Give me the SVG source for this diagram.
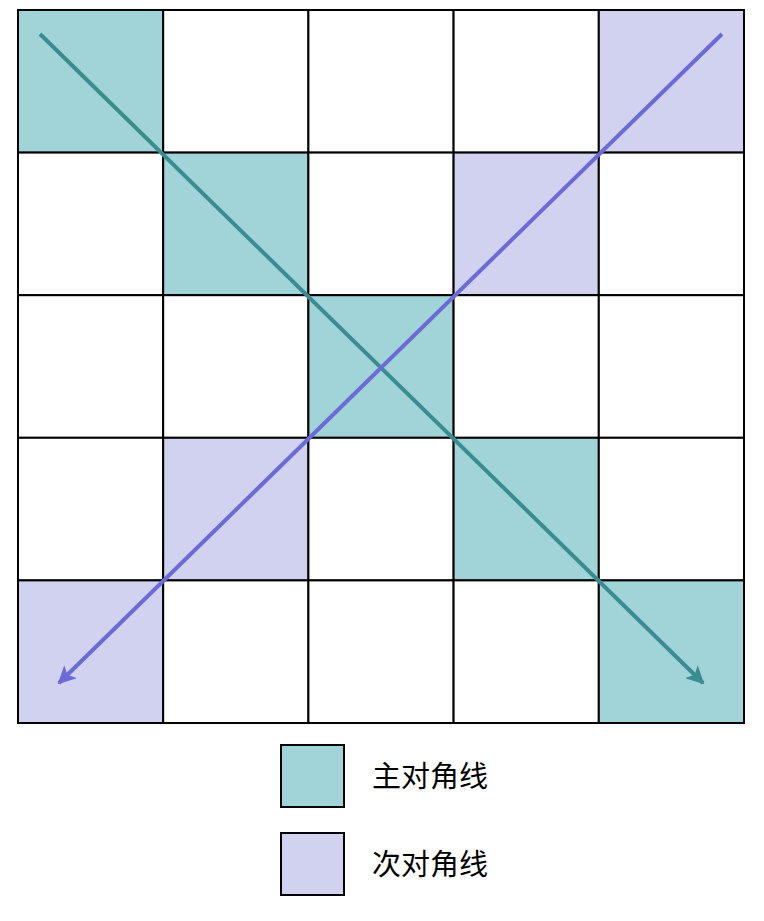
<svg xmlns="http://www.w3.org/2000/svg" width="764" height="921" viewBox="0 0 764 921">
<style>
.cell{stroke:#000;stroke-width:2}
.w{fill:#fff}
.t{fill:#A1D4D8}
.p{fill:#D1D2F0}
.lbl{font-family:"Noto Sans CJK SC","Noto Sans",sans-serif;font-size:29px;fill:#000}
</style>
<defs>
<marker id="at" viewBox="0 0 10 10" refX="9" refY="5" markerWidth="4.5" markerHeight="4.5" markerUnits="strokeWidth" orient="auto"><path d="M0,0 L10,5 L0,10 L2.5,5 Z" fill="#3A8C90"/></marker>
<marker id="ap" viewBox="0 0 10 10" refX="9" refY="5" markerWidth="4.5" markerHeight="4.5" markerUnits="strokeWidth" orient="auto"><path d="M0,0 L10,5 L0,10 L2.5,5 Z" fill="#6B6BD6"/></marker>
</defs>
<g id="grid">
<rect class="cell t" x="18" y="10" width="145.2" height="142.6"/>
<rect class="cell w" x="163.2" y="10" width="145.2" height="142.6"/>
<rect class="cell w" x="308.4" y="10" width="145.2" height="142.6"/>
<rect class="cell w" x="453.6" y="10" width="145.2" height="142.6"/>
<rect class="cell p" x="598.8" y="10" width="145.2" height="142.6"/>
<rect class="cell w" x="18" y="152.6" width="145.2" height="142.6"/>
<rect class="cell t" x="163.2" y="152.6" width="145.2" height="142.6"/>
<rect class="cell w" x="308.4" y="152.6" width="145.2" height="142.6"/>
<rect class="cell p" x="453.6" y="152.6" width="145.2" height="142.6"/>
<rect class="cell w" x="598.8" y="152.6" width="145.2" height="142.6"/>
<rect class="cell w" x="18" y="295.2" width="145.2" height="142.6"/>
<rect class="cell w" x="163.2" y="295.2" width="145.2" height="142.6"/>
<rect class="cell t" x="308.4" y="295.2" width="145.2" height="142.6"/>
<rect class="cell w" x="453.6" y="295.2" width="145.2" height="142.6"/>
<rect class="cell w" x="598.8" y="295.2" width="145.2" height="142.6"/>
<rect class="cell w" x="18" y="437.8" width="145.2" height="142.6"/>
<rect class="cell p" x="163.2" y="437.8" width="145.2" height="142.6"/>
<rect class="cell w" x="308.4" y="437.8" width="145.2" height="142.6"/>
<rect class="cell t" x="453.6" y="437.8" width="145.2" height="142.6"/>
<rect class="cell w" x="598.8" y="437.8" width="145.2" height="142.6"/>
<rect class="cell p" x="18" y="580.4" width="145.2" height="142.6"/>
<rect class="cell w" x="163.2" y="580.4" width="145.2" height="142.6"/>
<rect class="cell w" x="308.4" y="580.4" width="145.2" height="142.6"/>
<rect class="cell w" x="453.6" y="580.4" width="145.2" height="142.6"/>
<rect class="cell t" x="598.8" y="580.4" width="145.2" height="142.6"/>
</g>
<g id="connectors">
<line x1="40" y1="34" x2="703" y2="683" stroke="#3A8C90" stroke-width="4" marker-end="url(#at)"/>
<line x1="722" y1="34" x2="59" y2="683" stroke="#6B6BD6" stroke-width="4" marker-end="url(#ap)"/>
</g>
<g id="legend-main">
<rect class="cell t" x="281" y="745" width="63" height="62"/>
<text class="lbl" x="372" y="787">主对角线</text>
</g>
<g id="legend-anti">
<rect class="cell p" x="281" y="833" width="63" height="62"/>
<text class="lbl" x="372" y="875">次对角线</text>
</g>
</svg>
